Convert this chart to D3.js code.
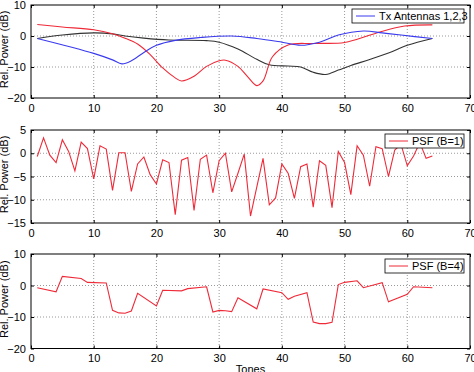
<!DOCTYPE html>
<html>
<head>
<meta charset="utf-8">
<script src="https://cdn.jsdelivr.net/npm/d3@7"></script>
<style>
  body { margin: 0; background: #fff; }
  svg { display: block; font-family: "Liberation Sans", Arial, sans-serif; }
  .grid line { stroke: #999; stroke-dasharray: 1,2; }
</style>
</head>
<body>
<div id="chart"></div>
<script>
// Panel 1: smooth per-antenna response (tone, dB)
var txTones1 = [1, 5, 10, 13, 15, 17, 19, 21, 23, 24, 26, 28, 30, 31, 33, 34.5, 36, 37, 38.5, 41, 45, 50, 55, 59.6, 64];
var txRed    = [3.7, 2.9, 2.0, 0.7, -0.7, -2.6, -6, -10.3, -13.5, -14.5, -13, -9.8, -8, -7.8, -9.8, -13, -16, -14.5, -6.7, -2.9, -2.4, -2.1, 0.9, 3.2, 3.6];
var txTones2 = [1, 10, 13, 14.5, 16, 18, 20, 23, 27, 32, 36, 40, 43, 46, 49, 53, 56, 59, 64];
var txBlue   = [-0.8, -5.6, -7.7, -9, -8, -5.3, -3, -1.4, -0.5, 0, -0.8, -2, -3, -2, 0.3, 1.6, 1.0, 0.3, -0.8];
var txTones3 = [1, 5, 10, 13, 15, 18, 22, 28, 30, 33, 36, 38, 41, 43, 45, 47, 49, 51, 54, 57, 60, 64];
var txBlack  = [-0.8, 0.3, 1.0, 0.7, 0, -0.7, -1.3, -1.5, -2, -4.2, -7.5, -9.3, -9.7, -10, -11.7, -12.4, -11, -9.5, -7.6, -5.5, -3, -0.8];

// Panel 2: PSF B=1, tones 1..64
var psf1 = [-0.7, 3.3, -0.4, -2.0, 2.9, 0.4, -3.8, 2.4, 1.0, -5.5,
            1.6, 0.9, -8.0, 0.1, 0.1, -8.2, -2.3, -0.8, -4.6, -6.6,
            -1.4, -2.0, -13.2, -1.5, -0.9, -12.3, -1.3, -0.4, -8.5, -1.6,
            0.0, -8.3, -4.3, -0.2, -13.5, -7.3, -1.1, -11.1, -9.6, -2.3,
            -4.3, -9.7, -2.9, -2.3, -11.6, -1.6, -2.6, -11.7, 0.4, -2.0,
            -8.9, 1.6, -0.4, -7.1, 1.4, 1.0, -5.0, 0.7, 1.9, -2.7,
            -0.6, 2.3, -1.1, -0.6];

// Panel 3: PSF B=4 (read break points)
var psf4Tones = [1, 4, 5, 8, 9, 12, 13, 14, 15, 16, 17, 20, 21, 24, 25, 28, 29, 30, 31, 32, 33, 36, 37, 40, 41, 42, 44, 45, 46, 47, 48, 49, 50, 52, 53, 56, 57, 60, 61, 64];
var psf4      = [-0.7, -2.0, 2.9, 2.2, 1.0, 0.8, -7.9, -8.7, -8.8, -8.1, -2.5, -6.5, -1.5, -1.7, -1.0, -0.4, -8.4, -7.9, -8.0, -8.3, -3.9, -7.4, -1.1, -2.3, -4.4, -3.4, -2.3, -11.6, -12.1, -12.1, -11.7, 0.3, 1.0, 1.5, -0.7, 0.9, -5.2, -2.8, -0.4, -0.7];

var xTicks = [0, 10, 20, 30, 40, 50, 60, 70];

var W = 474, H = 372;
var left = 31, right = 470;

var svg = d3.select("#chart").append("svg")
    .attr("width", W)
    .attr("height", H);

var x = d3.scaleLinear().domain([0, 70]).range([left, right]);

var red = "#ee2a38", blue = "#3a3aee", black = "#333";

function zip(xs, ys) {
    return xs.map(function (v, i) { return [v, ys[i]]; });
}

// draw one matlab-style panel
function panel(top, bottom, yDomain, yTicks, series, legend) {
    var y = d3.scaleLinear().domain(yDomain).range([bottom, top]);
    var g = svg.append("g");

    // grid
    var grid = g.append("g").attr("class", "grid");
    grid.selectAll(".gx").data(xTicks.slice(1, -1)).enter().append("line")
        .attr("x1", d => x(d)).attr("x2", d => x(d))
        .attr("y1", top).attr("y2", bottom);
    grid.selectAll(".gy").data(yTicks.slice(1, -1)).enter().append("line")
        .attr("x1", left).attr("x2", right)
        .attr("y1", d => y(d)).attr("y2", d => y(d));

    // lines
    series.forEach(function (s) {
        var line = d3.line()
            .x(d => x(d[0])).y(d => y(d[1]))
            .curve(s.curve || d3.curveLinear);
        g.append("path")
            .datum(s.data)
            .attr("fill", "none")
            .attr("stroke", s.color)
            .attr("stroke-width", 1.1)
            .attr("d", line);
    });

    // axes (ticks inward)
    var xAxis = d3.axisBottom(x).tickValues(xTicks).tickSizeInner(-3).tickSizeOuter(0).tickPadding(6);
    var yAxis = d3.axisLeft(y).tickValues(yTicks).tickSizeInner(-3).tickSizeOuter(0).tickPadding(5)
        .tickFormat(d => d < 0 ? "\u2212" + Math.abs(d) : d);
    g.append("g").attr("transform", "translate(0," + bottom + ")").call(xAxis);
    g.append("g").attr("transform", "translate(" + left + ",0)").call(yAxis);
    g.append("g").attr("transform", "translate(0," + top + ")")
        .call(d3.axisTop(x).tickValues(xTicks).tickSizeInner(-3).tickSizeOuter(0).tickFormat(""));
    g.append("g").attr("transform", "translate(" + right + ",0)")
        .call(d3.axisRight(y).tickValues(yTicks).tickSizeInner(-3).tickSizeOuter(0).tickFormat(""));
    g.selectAll(".domain").remove();
    g.selectAll(".tick line").attr("stroke", "#000");
    g.selectAll(".tick text").attr("font-size", 11).attr("fill", "#000")
        .attr("font-family", "Liberation Sans, Arial, sans-serif");

    g.append("rect")
        .attr("x", left).attr("y", top)
        .attr("width", right - left).attr("height", bottom - top)
        .attr("fill", "none").attr("stroke", "#000").attr("stroke-width", 1);

    // y label (partly clipped at the left edge, as in the original)
    g.append("text")
        .attr("transform", "translate(7.5," + ((top + bottom) / 2 - 2) + ") rotate(-90)")
        .attr("text-anchor", "middle")
        .attr("font-size", 11)
        .text("Rel. Power (dB)");

    // legend
    var lg = g.append("g");
    lg.append("rect")
        .attr("x", legend.x).attr("y", legend.y)
        .attr("width", 464 - legend.x).attr("height", 14)
        .attr("fill", "#fff").attr("stroke", "#000").attr("stroke-width", 0.8);
    lg.append("line")
        .attr("x1", legend.x + 4).attr("x2", legend.x + 23)
        .attr("y1", legend.y + 7).attr("y2", legend.y + 7)
        .attr("stroke", legend.color).attr("stroke-width", 1);
    lg.append("text")
        .attr("x", legend.x + 27).attr("y", legend.y + 11)
        .attr("font-size", 11)
        .text(legend.label);
}

panel(5, 98, [-20, 10], [-20, -10, 0, 10], [
    {data: zip(txTones3, txBlack), color: black, curve: d3.curveCatmullRom},
    {data: zip(txTones1, txRed), color: red, curve: d3.curveCatmullRom},
    {data: zip(txTones2, txBlue), color: blue, curve: d3.curveCatmullRom}
], {x: 352, y: 9, label: "Tx Antennas 1,2,3", color: blue});

panel(130, 223, [-15, 5], [-15, -10, -5, 0, 5], [
    {data: psf1.map((v, i) => [i + 1, v]), color: red}
], {x: 385, y: 134, label: "PSF (B=1)", color: red});

panel(254, 348.5, [-20, 10], [-20, -10, 0, 10], [
    {data: zip(psf4Tones, psf4), color: red}
], {x: 385, y: 259, label: "PSF (B=4)", color: red});

svg.append("text")
    .attr("x", x(35)).attr("y", 373)
    .attr("text-anchor", "middle")
    .attr("font-size", 11)
    .text("Tones");
</script>
</body>
</html>
